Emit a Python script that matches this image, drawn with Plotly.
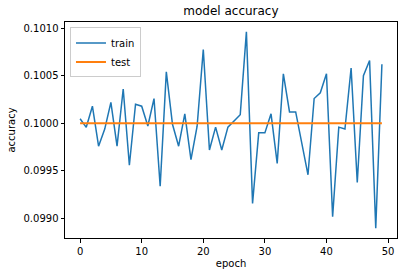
import plotly.graph_objects as go

epochs = list(range(50))
train_acc = [
    0.100048, 0.099958, 0.100180, 0.099760, 0.099940, 0.100220, 0.099760, 0.100360,
    0.099560, 0.100200, 0.100180, 0.099972, 0.100260, 0.099340, 0.100540, 0.099990,
    0.099760, 0.100100, 0.099620, 0.099970, 0.100775, 0.099720, 0.099960, 0.099720,
    0.099960, 0.100030, 0.100090, 0.100960, 0.099160, 0.099900, 0.099900, 0.100100,
    0.099580, 0.100520, 0.100120, 0.100120, 0.099790, 0.099460, 0.100260, 0.100320,
    0.100520, 0.099020, 0.099960, 0.099940, 0.100580, 0.099380, 0.100500, 0.100660,
    0.098900, 0.100620,
]
test_acc = [0.1000] * 50
y_ticks = [0.0990, 0.0995, 0.1000, 0.1005, 0.1010]
x_ticks = [0, 10, 20, 30, 40, 50]

FONT = "DejaVu Sans"

fig = go.Figure()
fig.add_trace(go.Scatter(x=epochs, y=train_acc, mode="lines", name="train",
                         line=dict(color="#1f77b4", width=1.5)))
fig.add_trace(go.Scatter(x=epochs, y=test_acc, mode="lines", name="test",
                         line=dict(color="#ff7f0e", width=2)))

axis_common = dict(showgrid=False, zeroline=False, showline=True, linecolor="black",
                   linewidth=1, mirror=True, ticks="outside", ticklen=3.5,
                   tickcolor="black", tickwidth=1,
                   tickfont=dict(family=FONT, size=10, color="black"))

fig.update_layout(
    width=408, height=278,
    margin=dict(l=63, r=10, t=22, b=38),
    paper_bgcolor="white", plot_bgcolor="white",
    font=dict(family=FONT, size=10, color="black"),
    title=dict(text="model accuracy", x=0.566, xanchor="center", y=0.962, yanchor="middle",
               font=dict(family=FONT, size=12, color="black")),
    showlegend=True,
    legend=dict(x=0.015, y=0.975, xanchor="left", yanchor="top",
                bgcolor="rgba(255,255,255,0.8)", bordercolor="#cccccc", borderwidth=1,
                font=dict(family=FONT, size=10, color="black"),
                tracegroupgap=0, itemwidth=30),
    xaxis=dict(range=[-2.45, 51.45], tickvals=x_ticks,
               title=dict(text="epoch", font=dict(family=FONT, size=10), standoff=4),
               **axis_common),
    yaxis=dict(range=[0.098797, 0.101063], tickvals=y_ticks, tickformat=".4f",
               title=dict(text="accuracy", font=dict(family=FONT, size=10), standoff=6),
               **axis_common),
)

fig.write_html("out.html")
